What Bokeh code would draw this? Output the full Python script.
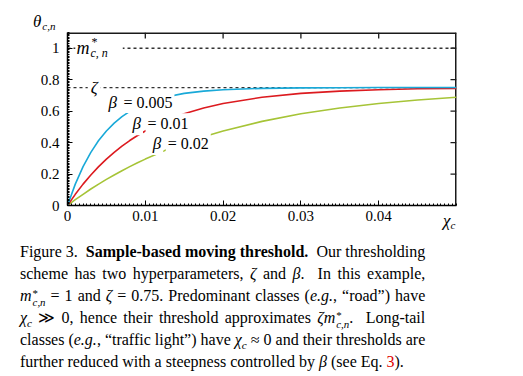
from bokeh.plotting import figure
from bokeh.models import (Range1d, FixedTicker, CustomJSTickFormatter, Label, Div)
from bokeh.layouts import column
from bokeh.embed import file_html
from bokeh.resources import INLINE

# ---- data ----
chi = [0, 0.001, 0.002, 0.003, 0.004, 0.005, 0.006, 0.007, 0.008, 0.009, 0.01,
       0.0125, 0.015, 0.0175, 0.02, 0.025, 0.03, 0.035, 0.04, 0.045, 0.05]
theta_b0005 = [0, .136, .247, .338, .413, .474, .524, .565, .599, .626, .649,
               .688, .713, .727, .736, .745, .748, .749, .750, .750, .750]
theta_b001 = [0, .071, .136, .194, .247, .295, .338, .378, .413, .445, .474,
              .535, .583, .620, .649, .688, .713, .727, .736, .742, .745]
theta_b002 = [0, .037, .071, .105, .136, .166, .194, .221, .247, .272, .295,
              .349, .396, .437, .474, .535, .583, .620, .649, .671, .688]
m_star = 1.0
zeta = 0.75
x_max, y_max = 0.05, 1.1
x_ticks = [0, 0.01, 0.02, 0.03, 0.04]
y_ticks = [0, 0.2, 0.4, 0.6, 0.8, 1.0]
series_labels = ["= 0.005", "= 0.01", "= 0.02"]

SERIF = "Liberation Serif"
CYAN, RED, GREEN = "#19a9d8", "#dc1a1f", "#a6c437"
EDGE = "#1a1a1a"

FRAME_W, FRAME_H = 389, 173
p = figure(width=523, height=200, x_range=Range1d(0, x_max), y_range=Range1d(0, y_max),
           output_backend="svg", toolbar_location=None,
           min_border_left=67, min_border_right=67, min_border_top=0, min_border_bottom=27)
p.grid.visible = False
p.outline_line_color = None

fmt = CustomJSTickFormatter(code="return String(+tick.toFixed(3));")
xminor = [i * 0.0005 for i in range(0, 101)]
yminor = [i * 0.01 for i in range(0, 111)]

bottom = p.xaxis[0]
left = p.yaxis[0]
bottom.ticker = FixedTicker(ticks=x_ticks, minor_ticks=xminor)
left.ticker = FixedTicker(ticks=y_ticks, minor_ticks=yminor)
for ax in (bottom, left):
    ax.formatter = fmt
    ax.major_tick_in = 5
    ax.major_tick_out = 0
    ax.minor_tick_in = 2
    ax.minor_tick_out = 0
    ax.axis_line_width = 1.5
    ax.axis_line_color = "black"
    ax.major_tick_line_color = "black"
    ax.minor_tick_line_color = "black"
    ax.major_label_text_font = SERIF
    ax.major_label_text_font_size = "15px"
    ax.major_label_text_color = "black"
bottom.major_label_standoff = 5
left.major_label_standoff = 8

# top and right edges of the box
p.line([0, x_max], [y_max, y_max], line_color=EDGE, line_width=3)
p.line([x_max, x_max], [0, y_max], line_color=EDGE, line_width=3)

# mirrored major ticks on top and right edges (inward)
tick_dy = 6 * y_max / FRAME_H
tick_dx = 6 * x_max / FRAME_W
p.segment(x0=x_ticks[1:], y0=[y_max] * 4, x1=x_ticks[1:], y1=[y_max - tick_dy] * 4,
          line_color=EDGE, line_width=1.3)
p.segment(x0=[x_max] * 5, y0=y_ticks[1:], x1=[x_max - tick_dx] * 5, y1=y_ticks[1:],
          line_color=EDGE, line_width=1.3)

# reference lines
p.line([0, x_max], [m_star, m_star], line_color="#333333", line_dash="3 3", line_width=1.3)
p.line([0, x_max], [zeta, zeta], line_color="#333333", line_dash="3 3", line_width=1.3)

# curves
p.line(chi, theta_b002, line_color=GREEN, line_width=1.6)
p.line(chi, theta_b001, line_color=RED, line_width=1.6)
p.line(chi, theta_b0005, line_color=CYAN, line_width=1.6)

def lab(x, y, text, size="14px", style="normal", bg=True, xo=0, yo=0, pad=1):
    l = Label(x=x, y=y, text=text, text_font=SERIF, text_font_size=size, text_font_style=style,
              text_color="black", text_align="left", text_baseline="middle",
              x_offset=xo, y_offset=yo)
    if bg:
        l.background_fill_color = "white"
        l.padding = pad
    p.add_layout(l)

# m*_{c,n} label on the y=1 line
lab(0.0010, m_star, "             ", size="14px", pad=1)
lab(0.00116, m_star, "m", size="18px", style="italic", bg=False)
lab(0.00116, m_star, "*", size="12px", bg=False, xo=15, yo=6)
lab(0.00116, m_star, "c, n", size="12px", style="italic", bg=False, xo=14, yo=-5)
# zeta label
lab(0.0026, zeta, "ζ", size="17px", style="italic", pad=3)

# beta labels
pos = [(0.0050, 0.655), (0.0081, 0.52), (0.0107, 0.395)]
for (x, y), t in zip(pos, series_labels):
    lab(x, y, "β", size="17px", style="italic", pad=2)
    lab(x, y, t, size="16px", xo=15, pad=2)

# y-axis title above the frame
top_div = Div(
    text=('<div style="position:relative;width:120px;height:32px">'
          '<span style="position:absolute;left:33px;top:13px;font-style:italic;font-size:17px;'
          'line-height:17px">θ<span style="font-size:11px;position:relative;top:3px;'
          'margin-left:1px">c,n</span></span></div>'),
    width=523, height=32, margin=(0, 0, 0, 0),
    styles={"font-family": "'Liberation Serif', serif", "color": "black"})

# x-axis title at the lower right, overlapping the figure's bottom border
chi_div = Div(
    text=('<div style="position:relative;width:30px;height:30px">'
          '<span style="position:absolute;left:3px;top:10px;font-style:italic;font-size:17px;'
          'line-height:17px">χ<span style="font-size:11px;position:relative;top:3px">c</span>'
          '</span></div>'),
    width=30, height=30, margin=(-30, 0, 0, 440),
    styles={"font-family": "'Liberation Serif', serif", "color": "black"})

sub = ('<span style="display:inline-block;vertical-align:-0.45em;line-height:0.85;'
       'font-size:0.68em;text-align:left;margin-left:1px">*<br><i>c,n</i></span>')
J = 'text-align:justify;text-align-last:justify;white-space:nowrap;'
lines = [
    'Figure 3.&nbsp; <b>Sample-based moving threshold.</b>&nbsp; Our thresholding',
    'scheme has two hyperparameters, <i>ζ</i> and <i>β</i>.&nbsp; In this example,',
    '<i>m</i>' + sub + ' = 1 and <i>ζ</i> = 0.75. Predominant classes (<i>e.g.</i>, “road”) have',
    '<i>χ<sub style="font-size:0.7em">c</sub></i> ≫ 0, hence their threshold approximates <i>ζm</i>' + sub + '.&nbsp; Long-tail',
    'classes (<i>e.g.</i>, “traffic light”) have <i>χ<sub style="font-size:0.7em">c</sub></i> ≈ 0 and their thresholds are',
    'further reduced with a steepness controlled by <i>β</i> (see Eq. <span style="color:#e00000">3</span>).',
]
html = ''.join(
    f'<div style="{J if i < len(lines) - 1 else "white-space:nowrap;"}height:22px;line-height:22px">{ln}</div>'
    for i, ln in enumerate(lines))
div = Div(text=html, width=473, height=140, margin=(9, 0, 0, 20),
          styles={"font-family": "'Liberation Serif', serif", "font-size": "16px", "color": "black"})

layout = column(top_div, p, chi_div, div, spacing=0)
open("out.html", "w").write(file_html(layout, INLINE))
